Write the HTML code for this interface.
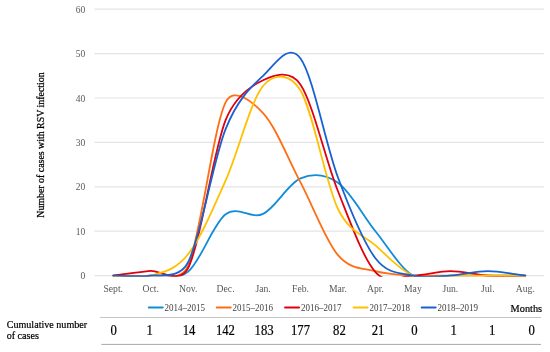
<!DOCTYPE html>
<html><head><meta charset="utf-8"><title>RSV cases by month</title>
<style>
html,body{margin:0;padding:0;background:#fff;}
body{width:550px;height:352px;position:relative;overflow:hidden;font-family:"Liberation Serif","DejaVu Serif",serif;}
.t{position:absolute;white-space:nowrap;line-height:1;}
</style></head><body>
<svg width="550" height="352" viewBox="0 0 550 352" style="position:absolute;left:0;top:0">
<defs><clipPath id="pc"><rect x="94.5" y="0" width="449.5" height="276.65"/></clipPath><clipPath id="pc2"><rect x="94.5" y="0" width="449.5" height="276.15"/></clipPath></defs>
<line x1="94.5" x2="544.0" y1="275.60" y2="275.60" stroke="#e4e4e4" stroke-width="1.2"/>
<line x1="94.5" x2="544.0" y1="231.20" y2="231.20" stroke="#e4e4e4" stroke-width="1.2"/>
<line x1="94.5" x2="544.0" y1="186.80" y2="186.80" stroke="#e4e4e4" stroke-width="1.2"/>
<line x1="94.5" x2="544.0" y1="142.40" y2="142.40" stroke="#e4e4e4" stroke-width="1.2"/>
<line x1="94.5" x2="544.0" y1="98.00" y2="98.00" stroke="#e4e4e4" stroke-width="1.2"/>
<line x1="94.5" x2="544.0" y1="53.60" y2="53.60" stroke="#e4e4e4" stroke-width="1.2"/>
<line x1="94.5" x2="544.0" y1="9.20" y2="9.20" stroke="#e4e4e4" stroke-width="1.2"/>
<g clip-path="url(#pc)" fill="none" stroke-width="1.8" stroke-linecap="round" stroke-linejoin="round">
<path d="M113.23 275.60 C125.72 275.60 138.20 276.27 150.69 275.60 C163.17 274.93 175.66 281.82 188.15 271.60 C200.63 261.39 213.12 223.95 225.60 214.33 C238.09 204.71 250.58 219.88 263.06 213.88 C275.55 207.89 288.03 183.54 300.52 178.36 C313.01 173.18 325.49 174.00 337.98 182.80 C350.47 191.61 362.95 215.73 375.44 231.20 C387.92 246.67 400.41 268.20 412.90 275.60 C425.38 283.00 437.87 275.60 450.35 275.60 C462.84 275.60 475.33 275.60 487.81 275.60 C500.30 275.60 512.78 275.60 525.27 275.60" stroke="#118cd8" clip-path="url(#pc2)"/>
<path d="M113.23 275.60 C125.72 275.60 138.20 277.23 150.69 275.60 C158.37 274.60 180.46 283.60 188.15 265.83 C200.63 236.97 213.12 127.90 225.60 102.44 C234.18 84.96 254.49 103.95 263.06 113.10 C275.55 126.42 288.03 158.68 300.52 182.36 C313.01 206.04 325.49 240.38 337.98 255.18 C350.47 269.98 362.95 267.76 375.44 271.16 C387.92 274.56 400.41 274.86 412.90 275.60 C425.38 276.34 437.87 275.60 450.35 275.60 C462.84 275.60 475.33 275.60 487.81 275.60 C500.30 275.60 512.78 275.60 525.27 275.60" stroke="#ff6e14" clip-path="url(#pc2)"/>
<path d="M113.23 275.60 C125.72 274.05 138.20 272.20 150.69 270.94 C159.05 270.10 179.79 284.87 188.15 268.05 C200.63 242.93 213.12 151.50 225.60 120.20 C235.75 94.76 252.92 85.05 263.06 80.24 C273.61 75.24 289.97 69.05 300.52 84.68 C313.01 103.18 325.49 160.01 337.98 191.24 C350.47 222.47 362.95 257.99 375.44 272.05 C387.92 286.11 400.41 275.75 412.90 275.60 C425.38 275.45 437.87 271.16 450.35 271.16 C462.84 271.16 475.33 274.86 487.81 275.60 C500.30 276.34 512.78 275.60 525.27 275.60" stroke="#e0000f"/>
<path d="M113.23 275.60 C125.72 275.60 138.20 279.15 150.69 275.60 C163.17 272.05 175.66 270.12 188.15 254.29 C200.63 238.45 213.12 208.63 225.60 180.58 C238.09 152.54 250.58 101.03 263.06 86.01 C275.12 71.51 290.71 74.34 300.52 90.45 C313.01 110.95 325.49 183.17 337.98 209.00 C349.35 232.51 364.07 235.30 375.44 245.41 C387.92 256.51 400.41 270.57 412.90 275.60 C425.38 280.63 437.87 275.60 450.35 275.60 C462.84 275.60 475.33 275.60 487.81 275.60 C500.30 275.60 512.78 275.60 525.27 275.60" stroke="#ffc000"/>
<path d="M113.23 275.60 C125.72 275.60 138.20 277.82 150.69 275.60 C159.74 273.99 179.10 279.98 188.15 262.28 C200.63 237.86 213.12 160.16 225.60 129.08 C237.74 98.86 250.92 87.24 263.06 75.80 C275.30 64.27 288.28 41.87 300.52 58.48 C313.01 75.43 325.49 144.18 337.98 177.48 C350.47 210.78 362.95 241.93 375.44 258.28 C387.92 274.64 400.41 272.71 412.90 275.60 C425.38 278.49 437.87 276.34 450.35 275.60 C462.84 274.86 475.33 271.16 487.81 271.16 C500.30 271.16 512.78 274.12 525.27 275.60" stroke="#1762d0"/>
</g>
<line x1="100" x2="541" y1="317.5" y2="317.5" stroke="#c6c6c6" stroke-width="1"/>
<line x1="101.4" x2="541" y1="344.4" y2="344.4" stroke="#a8a8a8" stroke-width="1"/>
<line x1="148.7" x2="162.8" y1="307.5" y2="307.5" stroke="#118cd8" stroke-width="1.8" stroke-linecap="round"/>
<line x1="216.7" x2="230.8" y1="307.5" y2="307.5" stroke="#ff6e14" stroke-width="1.8" stroke-linecap="round"/>
<line x1="285.0" x2="299.1" y1="307.5" y2="307.5" stroke="#e0000f" stroke-width="1.8" stroke-linecap="round"/>
<line x1="353.5" x2="367.6" y1="307.5" y2="307.5" stroke="#ffc000" stroke-width="1.8" stroke-linecap="round"/>
<line x1="421.6" x2="435.7" y1="307.5" y2="307.5" stroke="#1762d0" stroke-width="1.8" stroke-linecap="round"/>
</svg>
<div class="t" style="left:5.30px;width:80px;text-align:right;top:272.24px;font-size:9.50px;color:#595959;transform:scaleY(1.100);transform-origin:50% 83.75%;">0</div>
<div class="t" style="left:5.30px;width:80px;text-align:right;top:227.84px;font-size:9.50px;color:#595959;transform:scaleY(1.100);transform-origin:50% 83.75%;">10</div>
<div class="t" style="left:5.30px;width:80px;text-align:right;top:183.44px;font-size:9.50px;color:#595959;transform:scaleY(1.100);transform-origin:50% 83.75%;">20</div>
<div class="t" style="left:5.30px;width:80px;text-align:right;top:139.04px;font-size:9.50px;color:#595959;transform:scaleY(1.100);transform-origin:50% 83.75%;">30</div>
<div class="t" style="left:5.30px;width:80px;text-align:right;top:94.64px;font-size:9.50px;color:#595959;transform:scaleY(1.100);transform-origin:50% 83.75%;">40</div>
<div class="t" style="left:5.30px;width:80px;text-align:right;top:50.24px;font-size:9.50px;color:#595959;transform:scaleY(1.100);transform-origin:50% 83.75%;">50</div>
<div class="t" style="left:5.30px;width:80px;text-align:right;top:5.84px;font-size:9.50px;color:#595959;transform:scaleY(1.100);transform-origin:50% 83.75%;">60</div>
<div class="t" style="left:73.23px;width:80px;text-align:center;top:283.78px;font-size:9.70px;color:#595959;">Sept.</div>
<div class="t" style="left:110.69px;width:80px;text-align:center;top:283.78px;font-size:9.70px;color:#595959;">Oct.</div>
<div class="t" style="left:148.15px;width:80px;text-align:center;top:283.78px;font-size:9.70px;color:#595959;">Nov.</div>
<div class="t" style="left:185.60px;width:80px;text-align:center;top:283.78px;font-size:9.70px;color:#595959;">Dec.</div>
<div class="t" style="left:223.06px;width:80px;text-align:center;top:283.78px;font-size:9.70px;color:#595959;">Jan.</div>
<div class="t" style="left:260.52px;width:80px;text-align:center;top:283.78px;font-size:9.70px;color:#595959;">Feb.</div>
<div class="t" style="left:297.98px;width:80px;text-align:center;top:283.78px;font-size:9.70px;color:#595959;">Mar.</div>
<div class="t" style="left:335.44px;width:80px;text-align:center;top:283.78px;font-size:9.70px;color:#595959;">Apr.</div>
<div class="t" style="left:372.90px;width:80px;text-align:center;top:283.78px;font-size:9.70px;color:#595959;">May</div>
<div class="t" style="left:410.35px;width:80px;text-align:center;top:283.78px;font-size:9.70px;color:#595959;">Jun.</div>
<div class="t" style="left:447.81px;width:80px;text-align:center;top:283.78px;font-size:9.70px;color:#595959;">Jul.</div>
<div class="t" style="left:485.27px;width:80px;text-align:center;top:283.78px;font-size:9.70px;color:#595959;">Aug.</div>
<div class="t" style="left:73.70px;width:80px;text-align:center;top:324.76px;font-size:12.70px;color:#000;-webkit-text-stroke:0.2px #000;transform:scaleY(1.090);transform-origin:50% 83.75%;">0</div>
<div class="t" style="left:109.70px;width:80px;text-align:center;top:324.76px;font-size:12.70px;color:#000;-webkit-text-stroke:0.2px #000;transform:scaleY(1.090);transform-origin:50% 83.75%;">1</div>
<div class="t" style="left:149.00px;width:80px;text-align:center;top:324.76px;font-size:12.70px;color:#000;-webkit-text-stroke:0.2px #000;transform:scaleY(1.090);transform-origin:50% 83.75%;">14</div>
<div class="t" style="left:185.40px;width:80px;text-align:center;top:324.76px;font-size:12.70px;color:#000;-webkit-text-stroke:0.2px #000;transform:scaleY(1.090);transform-origin:50% 83.75%;">142</div>
<div class="t" style="left:224.10px;width:80px;text-align:center;top:324.76px;font-size:12.70px;color:#000;-webkit-text-stroke:0.2px #000;transform:scaleY(1.090);transform-origin:50% 83.75%;">183</div>
<div class="t" style="left:260.50px;width:80px;text-align:center;top:324.76px;font-size:12.70px;color:#000;-webkit-text-stroke:0.2px #000;transform:scaleY(1.090);transform-origin:50% 83.75%;">177</div>
<div class="t" style="left:299.40px;width:80px;text-align:center;top:324.76px;font-size:12.70px;color:#000;-webkit-text-stroke:0.2px #000;transform:scaleY(1.090);transform-origin:50% 83.75%;">82</div>
<div class="t" style="left:338.00px;width:80px;text-align:center;top:324.76px;font-size:12.70px;color:#000;-webkit-text-stroke:0.2px #000;transform:scaleY(1.090);transform-origin:50% 83.75%;">21</div>
<div class="t" style="left:374.40px;width:80px;text-align:center;top:324.76px;font-size:12.70px;color:#000;-webkit-text-stroke:0.2px #000;transform:scaleY(1.090);transform-origin:50% 83.75%;">0</div>
<div class="t" style="left:413.70px;width:80px;text-align:center;top:324.76px;font-size:12.70px;color:#000;-webkit-text-stroke:0.2px #000;transform:scaleY(1.090);transform-origin:50% 83.75%;">1</div>
<div class="t" style="left:452.20px;width:80px;text-align:center;top:324.76px;font-size:12.70px;color:#000;-webkit-text-stroke:0.2px #000;transform:scaleY(1.090);transform-origin:50% 83.75%;">1</div>
<div class="t" style="left:491.70px;width:80px;text-align:center;top:324.76px;font-size:12.70px;color:#000;-webkit-text-stroke:0.2px #000;transform:scaleY(1.090);transform-origin:50% 83.75%;">0</div>
<div class="t" style="left:6.70px;top:319.94px;font-size:10.10px;color:#000;-webkit-text-stroke:0.2px #000;">Cumulative number</div>
<div class="t" style="left:6.70px;top:331.44px;font-size:10.10px;color:#000;-webkit-text-stroke:0.2px #000;">of cases</div>
<div class="t" style="left:510.60px;top:303.87px;font-size:10.30px;color:#000;-webkit-text-stroke:0.2px #000;">Months</div>
<div class="t" style="left:40.9px;top:145.3px;font-size:9.9px;color:#000;transform:translate(-50%,-50%) rotate(-90deg);transform-origin:center;-webkit-text-stroke:0.25px #000">Number of cases with RSV infection</div>
<div class="t" style="left:164.60px;top:303.76px;font-size:9.00px;color:#404040;transform:scaleY(1.100);transform-origin:50% 83.75%;">2014–2015</div>
<div class="t" style="left:232.60px;top:303.76px;font-size:9.00px;color:#404040;transform:scaleY(1.100);transform-origin:50% 83.75%;">2015–2016</div>
<div class="t" style="left:300.90px;top:303.76px;font-size:9.00px;color:#404040;transform:scaleY(1.100);transform-origin:50% 83.75%;">2016–2017</div>
<div class="t" style="left:369.40px;top:303.76px;font-size:9.00px;color:#404040;transform:scaleY(1.100);transform-origin:50% 83.75%;">2017–2018</div>
<div class="t" style="left:437.50px;top:303.76px;font-size:9.00px;color:#404040;transform:scaleY(1.100);transform-origin:50% 83.75%;">2018–2019</div>
</body></html>
